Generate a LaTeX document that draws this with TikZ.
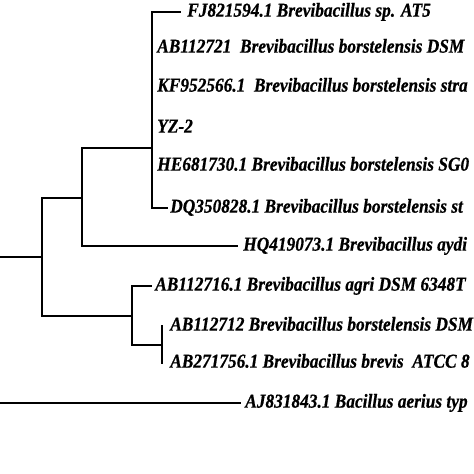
\documentclass[tikz,border=0pt]{standalone}
\usepackage{fontspec}
\setmainfont{Liberation Serif}[FakeStretch=0.88,
  BoldItalicFeatures={FakeStretch=0.88,FakeBold=0.7}]
\usetikzlibrary{positioning}
\tikzset{
  branch/.style={line width=1.3pt, line cap=rect},
  leaf/.style={anchor=west, inner sep=0pt, font=\fontsize{14}{16}\selectfont\bfseries\itshape,
               text height=0.66em, text depth=0pt},
}
\begin{document}
\begin{tikzpicture}[x=0.025cm,y=-0.025cm]
  \useasboundingbox (0,0) rectangle (474,474);
  % inner nodes
  \coordinate (nA) at (152,148);
  \coordinate (nB) at (82,198);
  \coordinate (nC) at (42,257);
  \coordinate (nD) at (132,316);
  \coordinate (nE) at (162,345);
  \coordinate (rootA) at (0,257);
  \coordinate (rootB) at (0,403);
  % leaves
  \node[leaf] (fj) at (187,12) {FJ821594.1 Brevibacillus sp. AT5};
  \node[leaf] (ab721) at (157,48) {AB112721~~Brevibacillus borstelensis DSM};
  \node[leaf] (kf) at (157,87) {KF952566.1~~Brevibacillus borstelensis stra};
  \node[leaf] (yz) at (157,128) {YZ-2};
  \node[leaf] (he) at (157,166) {HE681730.1 Brevibacillus borstelensis SG0};
  \node[leaf] (dq) at (170,208) {DQ350828.1 Brevibacillus borstelensis st};
  \node[leaf] (hq) at (243,246) {HQ419073.1 Brevibacillus aydi};
  \node[leaf] (ab716) at (155,286) {AB112716.1 Brevibacillus agri DSM 6348T};
  \node[leaf] (ab712) at (170,326) {AB112712 Brevibacillus borstelensis DSM};
  \node[leaf] (ab756) at (170,363) {AB271756.1 Brevibacillus brevis~~ATCC 8};
  \node[leaf] (aj) at (245,403) {AJ831843.1 Bacillus aerius typ};
  % branches
  \draw[branch] ([xshift=-7*0.025cm]fj.west) -| (nA |- dq.west) -- ([xshift=-3*0.025cm]dq.west);
  \draw[branch] (nA) -- (nB |- nA) |- ([xshift=-6*0.025cm]hq.west);
  \draw[branch] (nB) -- (nC |- nB) |- (nD);
  \draw[branch] (rootA) -- (nC);
  \draw[branch] ([xshift=-4*0.025cm]ab716.west) -| (nD |- nE) -- (nE);
  \draw[branch] (nE |- ab712.west) -- (nE |- ab756.west);
  \draw[branch] (rootB) -- ([xshift=-5*0.025cm]aj.west);
\end{tikzpicture}
\end{document}
